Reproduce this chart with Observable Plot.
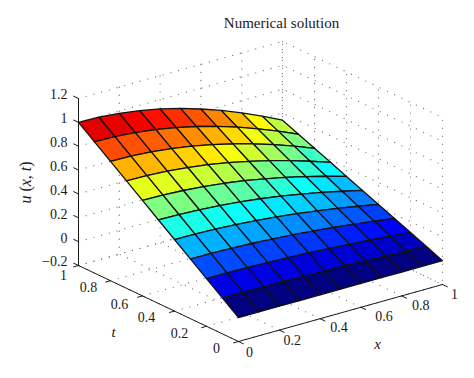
<!DOCTYPE html>
<html><head><meta charset="utf-8">
<script src="https://cdn.jsdelivr.net/npm/d3@7"></script>
<script src="https://cdn.jsdelivr.net/npm/@observablehq/plot@0.6"></script>
<style>html,body{margin:0;padding:0;background:#fff}svg{display:block}</style>
</head><body><div id="chart"></div>
<script>
// Grid positions
const xGrid = [0,0.1,0.2,0.3,0.4,0.5,0.6,0.7,0.8,0.9,1];
const tGrid = [0,0.1,0.2,0.3,0.4,0.5,0.6,0.7,0.8,0.9,1];
// Surface heights, one list per t level, running along x
const uT00 = [0,0,0,0,0,0,0,0,0,0,0];
const uT01 = [.100,.100,.098,.096,.092,.088,.083,.077,.070,.062,.054];
const uT02 = [.200,.199,.196,.191,.184,.176,.165,.153,.139,.124,.108];
const uT03 = [.300,.299,.294,.287,.276,.263,.248,.230,.209,.187,.162];
const uT04 = [.400,.398,.392,.382,.368,.351,.330,.306,.279,.249,.216];
const uT05 = [.500,.498,.490,.478,.461,.439,.413,.383,.349,.311,.270];
const uT06 = [.600,.597,.588,.573,.553,.527,.495,.459,.418,.373,.324];
const uT07 = [.700,.697,.686,.669,.645,.615,.578,.536,.488,.435,.378];
const uT08 = [.800,.796,.784,.764,.737,.702,.660,.612,.558,.498,.432];
const uT09 = [.900,.896,.882,.860,.829,.790,.743,.689,.627,.560,.486];
const uT10 = [1,.995,.980,.955,.921,.878,.825,.765,.697,.622,.540];
const uRows = [uT00,uT01,uT02,uT03,uT04,uT05,uT06,uT07,uT08,uT09,uT10];
// Axis ticks
const xTicks = [0,0.2,0.4,0.6,0.8,1];
const tTicks = [0,0.2,0.4,0.6,0.8,1];
const zTicks = [-0.2,0,0.2,0.4,0.6,0.8,1,1.2];
const xTickLabels = ["0","0.2","0.4","0.6","0.8","1"];
const tTickLabels = ["0","0.2","0.4","0.6","0.8","1"];
const zTickLabels = ["\u22120.2","0","0.2","0.4","0.6","0.8","1","1.2"];

// Oblique projection of the MATLAB view: (x, t, z) -> plane coordinates
const zMin = -0.2, zMax = 1.2;
const X = (x,t) => 204*x + 160*(1-t);
const Y = (x,t,z) => 57*x - 76*(1-t) + 119.3*(z-zMin);
const pt = (x,t,z,g,extra={}) => ({px:X(x,t), py:Y(x,t,z), g, ...extra});

// Dotted grid on the floor and two back walls
const grid = [];
let id = 0;
for (const x of xTicks) {
  id++; grid.push(pt(x,0,zMin,id), pt(x,1,zMin,id), pt(x,1,zMax,id));
}
for (const t of tTicks) {
  id++; grid.push(pt(0,t,zMin,id), pt(1,t,zMin,id), pt(1,t,zMax,id));
}
for (const z of zTicks) {
  id++; grid.push(pt(0,1,z,id), pt(1,1,z,id), pt(1,0,z,id));
}

// Surface cells, far to near; colour comes from the cell's low-index corner
const cells = [];
for (let j = tGrid.length-2; j >= 0; j--) {
  for (let i = xGrid.length-2; i >= 0; i--) {
    const g = j*100+i, v = uRows[j][i];
    for (const [a,b] of [[i,j],[i+1,j],[i+1,j+1],[i,j+1],[i,j]]) {
      cells.push(pt(xGrid[a],tGrid[b],uRows[b][a],g,{v}));
    }
  }
}

// Axis lines and ticks
const axes = [
  pt(0,1,zMin,"z"), pt(0,1,zMax,"z"),
  pt(0,1,zMin,"t"), pt(0,0,zMin,"t"),
  pt(0,0,zMin,"x"), pt(1,0,zMin,"x")
];
const tickLen = 0.03;
for (const x of xTicks) axes.push(pt(x,0,zMin,"xt"+x), pt(x,-tickLen,zMin,"xt"+x));
for (const t of tTicks) axes.push(pt(0,t,zMin,"tt"+t), pt(-tickLen*0.8,t,zMin,"tt"+t));
for (const z of zTicks) axes.push(pt(0,1,z,"zt"+z), pt(0,1+tickLen,z,"zt"+z));

// Hand placement of tick labels, relative to their ticks
const xOff = [[11,11],[13,10],[19,9],[23,9],[19,10],[12,10]];
const tOff = [[-22,7],[-27,7],[-28,6],[-23,9],[-22,7],[-15,10]];
const labels = [];
xTicks.forEach((x,i)=>labels.push({px:X(x,0)+xOff[i][0], py:Y(x,0,zMin)-xOff[i][1], s:xTickLabels[i]}));
tTicks.forEach((t,i)=>labels.push({px:X(0,t)+tOff[i][0], py:Y(0,t,zMin)-tOff[i][1], s:tTickLabels[i]}));
const zLabels = zTicks.map((z,i)=>({px:X(0,1)-11, py:Y(0,1,z)+3.5, s:zTickLabels[i]}));

const font = "'Liberation Serif', 'Times New Roman', serif";
const ink = "#1a1a1a";
const plot = Plot.plot({
  width:474, height:378, margin:0,
  style:{fontFamily:font, background:"#fff", color:ink},
  x:{domain:[-78,396], range:[0,474], axis:null},
  y:{domain:[-113,265], range:[378,0], axis:null},
  color:{type:"linear", domain:[0,0.125,0.375,0.625,0.875,1],
         range:["#000080","#0000ff","#00ffff","#ffff00","#ff0000","#700000"],
         interpolate:"rgb"},
  marks:[
    Plot.line(grid,{x:"px",y:"py",z:"g",stroke:"#777",strokeWidth:1.3,strokeLinecap:"round",strokeDasharray:"0 8",curve:"linear"}),
    Plot.line(cells,{x:"px",y:"py",z:"g",fill:"v",stroke:"#111",strokeWidth:1.3,strokeLinejoin:"round",curve:"linear"}),
    Plot.line(axes,{x:"px",y:"py",z:"g",stroke:ink,strokeWidth:1,curve:"linear"}),
    Plot.text(labels,{x:"px",y:"py",text:"s",fontSize:14,textAnchor:"middle",lineAnchor:"middle",fill:ink}),
    Plot.text(zLabels,{x:"px",y:"py",text:"s",fontSize:14,textAnchor:"end",lineAnchor:"middle",fill:ink}),
    Plot.text(["Numerical solution"],{frameAnchor:"top-left",dx:281,dy:23,textAnchor:"middle",lineAnchor:"middle",fontSize:15,fill:ink}),
    Plot.text(["t"],{frameAnchor:"top-left",dx:113,dy:332,textAnchor:"middle",lineAnchor:"middle",fontSize:15,fontStyle:"italic",fill:ink}),
    Plot.text(["x"],{frameAnchor:"top-left",dx:377,dy:344,textAnchor:"middle",lineAnchor:"middle",fontSize:15,fontStyle:"italic",fill:ink}),
    Plot.text(["u (x, t)"],{frameAnchor:"top-left",dx:25,dy:182,rotate:-90,textAnchor:"middle",lineAnchor:"middle",fontSize:16,fontStyle:"italic",fill:ink})
  ]
});
// Upright parentheses and comma inside the z axis title
d3.select(plot).selectAll("text").filter(function(){return this.textContent==="u (x, t)";}).each(function(){
  const up = s => `<tspan font-style="normal">${s}</tspan>`;
  this.innerHTML = `u ${up("(")}x${up(",")} t${up(")")}`;
});
document.getElementById("chart").append(plot);
</script></body></html>
